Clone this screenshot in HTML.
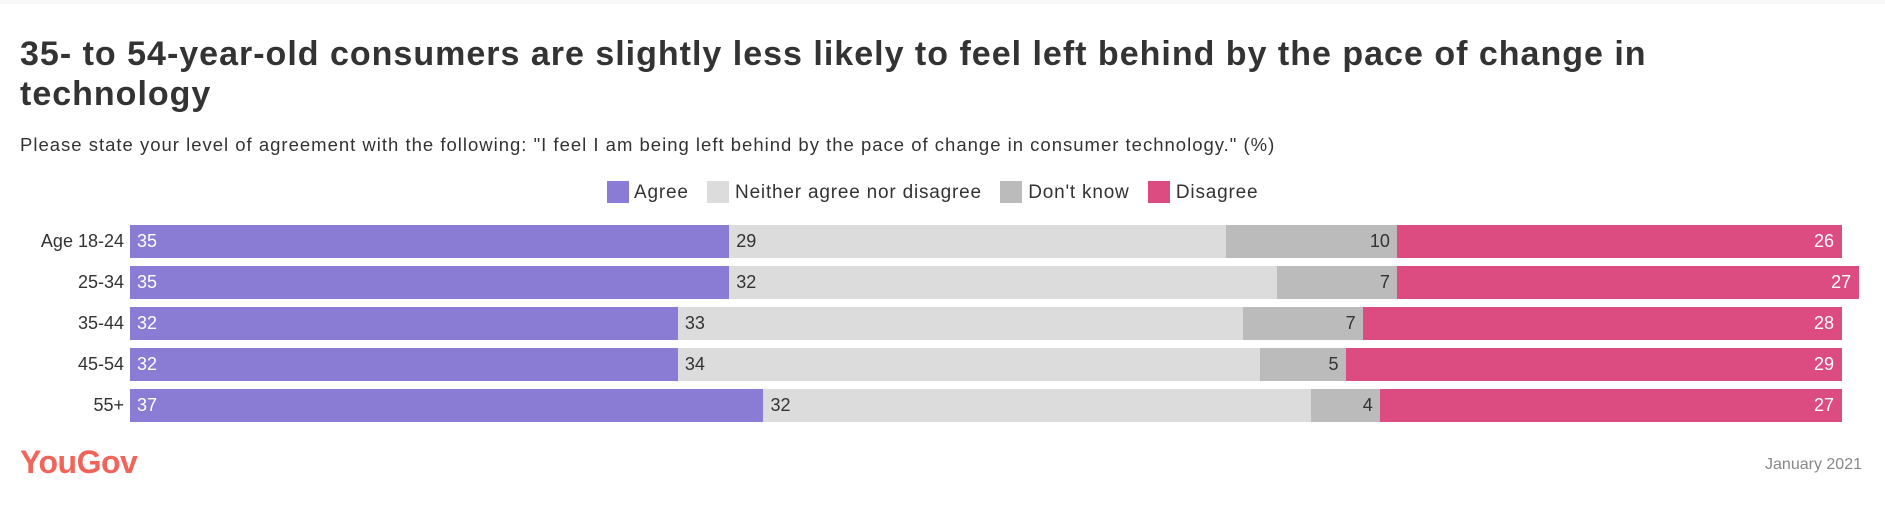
<!DOCTYPE html>
<html><head><meta charset="utf-8"><style>
body{margin:0;width:1885px;height:510px;background:#fff;font-family:"Liberation Sans",sans-serif;color:#333;position:relative;overflow:hidden}
.a{position:absolute;white-space:nowrap}
.bar{position:absolute;height:33px}
.n{position:absolute;top:0;line-height:33px;font-size:18px}
</style></head><body>
<div class="a" style="left:0;top:0;width:1885px;height:4px;background:#f7f7f7"></div>
<div class="a" style="left:20px;top:34px;font-size:34px;font-weight:bold;color:#333;line-height:40px;letter-spacing:1.0px">35- to 54-year-old consumers are slightly less likely to feel left behind by the pace of change in<br>technology</div>
<div class="a" style="left:20px;top:134px;font-size:18.5px;color:#333;letter-spacing:1px">Please state your level of agreement with the following: "I feel I am being left behind by the pace of change in consumer technology." (%)</div>
<div class="a" style="left:607px;top:181px;font-size:19px;line-height:23px;letter-spacing:0.8px">
<span style="display:inline-block;width:22px;height:22px;background:#8a7cd4;vertical-align:top"></span> Agree&nbsp;&nbsp;
<span style="display:inline-block;width:22px;height:22px;background:#dcdcdc;vertical-align:top"></span> Neither agree nor disagree&nbsp;&nbsp;
<span style="display:inline-block;width:22px;height:22px;background:#bbbbbb;vertical-align:top"></span> Don't know&nbsp;&nbsp;
<span style="display:inline-block;width:22px;height:22px;background:#dd4c80;vertical-align:top"></span> Disagree</div>
<div id="c"></div>
<div class="a" style="left:20px;top:444px;font-size:32px;font-weight:bold;color:#f0645a;letter-spacing:-0.5px">YouGov</div>
<div class="a" style="right:23px;top:456px;font-size:16px;color:#888">January 2021</div>
<script>
var d=[["Age 18-24",35,29,10,26],["25-34",35,32,7,27],["35-44",32,33,7,28],["45-54",32,34,5,29],["55+",37,32,4,27]];
var col=["#8a7cd4","#dcdcdc","#bbbbbb","#dd4c80"],h="",u=17.12;
d.forEach(function(r,i){var y=225+i*41,x=130;
h+='<div class="a" style="right:'+(1885-124)+'px;top:'+y+'px;line-height:33px;font-size:18px">'+r[0]+'</div>';
for(var k=0;k<4;k++){var w=r[k+1]*u;
var lab=k==0?'<span class="n" style="left:7px;color:#fff">':k==1?'<span class="n" style="left:7px">':k==2?'<span class="n" style="right:7px">':'<span class="n" style="right:8px;color:#fff">';
h+='<div class="bar" style="left:'+x+'px;top:'+y+'px;width:'+w+'px;background:'+col[k]+'">'+lab+r[k+1]+'</span></div>';x+=w;}
});
document.getElementById("c").innerHTML=h;
</script>
</body></html>
